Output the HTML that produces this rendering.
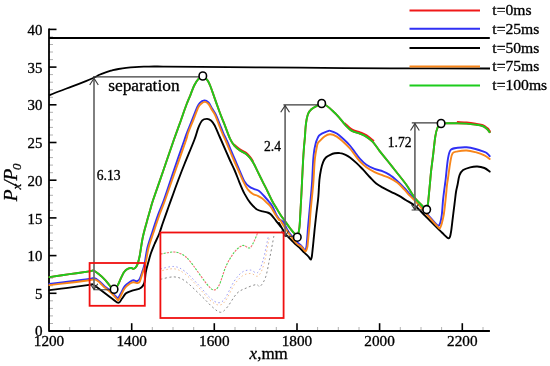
<!DOCTYPE html>
<html><head><meta charset="utf-8"><style>
html,body{margin:0;padding:0;background:#fff;}
body{width:550px;height:366px;overflow:hidden;position:relative;}
svg{position:absolute;left:0;top:0;}
text{font-family:"Liberation Serif","Times New Roman",serif; fill:#000;stroke:#000;stroke-width:0.3px;}
</style></head><body>
<svg width="550" height="366" viewBox="0 0 550 366">
<line x1="49" y1="323.5" x2="53" y2="323.5" stroke="#b0b0b0" stroke-width="1"/>
<line x1="49" y1="315.9" x2="53" y2="315.9" stroke="#b0b0b0" stroke-width="1"/>
<line x1="49" y1="308.4" x2="53" y2="308.4" stroke="#b0b0b0" stroke-width="1"/>
<line x1="49" y1="300.8" x2="53" y2="300.8" stroke="#b0b0b0" stroke-width="1"/>
<line x1="49" y1="285.8" x2="53" y2="285.8" stroke="#b0b0b0" stroke-width="1"/>
<line x1="49" y1="278.2" x2="53" y2="278.2" stroke="#b0b0b0" stroke-width="1"/>
<line x1="49" y1="270.7" x2="53" y2="270.7" stroke="#b0b0b0" stroke-width="1"/>
<line x1="49" y1="263.1" x2="53" y2="263.1" stroke="#b0b0b0" stroke-width="1"/>
<line x1="49" y1="248.1" x2="53" y2="248.1" stroke="#b0b0b0" stroke-width="1"/>
<line x1="49" y1="240.5" x2="53" y2="240.5" stroke="#b0b0b0" stroke-width="1"/>
<line x1="49" y1="233.0" x2="53" y2="233.0" stroke="#b0b0b0" stroke-width="1"/>
<line x1="49" y1="225.4" x2="53" y2="225.4" stroke="#b0b0b0" stroke-width="1"/>
<line x1="49" y1="210.4" x2="53" y2="210.4" stroke="#b0b0b0" stroke-width="1"/>
<line x1="49" y1="202.8" x2="53" y2="202.8" stroke="#b0b0b0" stroke-width="1"/>
<line x1="49" y1="195.3" x2="53" y2="195.3" stroke="#b0b0b0" stroke-width="1"/>
<line x1="49" y1="187.7" x2="53" y2="187.7" stroke="#b0b0b0" stroke-width="1"/>
<line x1="49" y1="172.7" x2="53" y2="172.7" stroke="#b0b0b0" stroke-width="1"/>
<line x1="49" y1="165.1" x2="53" y2="165.1" stroke="#b0b0b0" stroke-width="1"/>
<line x1="49" y1="157.6" x2="53" y2="157.6" stroke="#b0b0b0" stroke-width="1"/>
<line x1="49" y1="150.0" x2="53" y2="150.0" stroke="#b0b0b0" stroke-width="1"/>
<line x1="49" y1="135.0" x2="53" y2="135.0" stroke="#b0b0b0" stroke-width="1"/>
<line x1="49" y1="127.4" x2="53" y2="127.4" stroke="#b0b0b0" stroke-width="1"/>
<line x1="49" y1="119.9" x2="53" y2="119.9" stroke="#b0b0b0" stroke-width="1"/>
<line x1="49" y1="112.3" x2="53" y2="112.3" stroke="#b0b0b0" stroke-width="1"/>
<line x1="49" y1="97.3" x2="53" y2="97.3" stroke="#b0b0b0" stroke-width="1"/>
<line x1="49" y1="89.7" x2="53" y2="89.7" stroke="#b0b0b0" stroke-width="1"/>
<line x1="49" y1="82.2" x2="53" y2="82.2" stroke="#b0b0b0" stroke-width="1"/>
<line x1="49" y1="74.6" x2="53" y2="74.6" stroke="#b0b0b0" stroke-width="1"/>
<line x1="49" y1="59.6" x2="53" y2="59.6" stroke="#b0b0b0" stroke-width="1"/>
<line x1="49" y1="52.0" x2="53" y2="52.0" stroke="#b0b0b0" stroke-width="1"/>
<line x1="49" y1="44.5" x2="53" y2="44.5" stroke="#b0b0b0" stroke-width="1"/>
<line x1="49" y1="36.9" x2="53" y2="36.9" stroke="#b0b0b0" stroke-width="1"/>
<line x1="49" y1="331.0" x2="56.5" y2="331.0" stroke="#000" stroke-width="1.6"/>
<line x1="49" y1="293.3" x2="56.5" y2="293.3" stroke="#000" stroke-width="1.6"/>
<line x1="49" y1="255.6" x2="56.5" y2="255.6" stroke="#000" stroke-width="1.6"/>
<line x1="49" y1="217.9" x2="56.5" y2="217.9" stroke="#000" stroke-width="1.6"/>
<line x1="49" y1="180.2" x2="56.5" y2="180.2" stroke="#000" stroke-width="1.6"/>
<line x1="49" y1="142.5" x2="56.5" y2="142.5" stroke="#000" stroke-width="1.6"/>
<line x1="49" y1="104.8" x2="56.5" y2="104.8" stroke="#000" stroke-width="1.6"/>
<line x1="49" y1="67.1" x2="56.5" y2="67.1" stroke="#000" stroke-width="1.6"/>
<line x1="49" y1="29.4" x2="56.5" y2="29.4" stroke="#000" stroke-width="1.6"/>
<line x1="69.7" y1="331" x2="69.7" y2="327" stroke="#b0b0b0" stroke-width="1"/>
<line x1="90.3" y1="331" x2="90.3" y2="327" stroke="#b0b0b0" stroke-width="1"/>
<line x1="111.0" y1="331" x2="111.0" y2="327" stroke="#b0b0b0" stroke-width="1"/>
<line x1="131.7" y1="331" x2="131.7" y2="323.2" stroke="#000" stroke-width="1.6"/>
<line x1="152.3" y1="331" x2="152.3" y2="327" stroke="#b0b0b0" stroke-width="1"/>
<line x1="173.0" y1="331" x2="173.0" y2="327" stroke="#b0b0b0" stroke-width="1"/>
<line x1="193.7" y1="331" x2="193.7" y2="327" stroke="#b0b0b0" stroke-width="1"/>
<line x1="214.3" y1="331" x2="214.3" y2="323.2" stroke="#000" stroke-width="1.6"/>
<line x1="235.0" y1="331" x2="235.0" y2="327" stroke="#b0b0b0" stroke-width="1"/>
<line x1="255.7" y1="331" x2="255.7" y2="327" stroke="#b0b0b0" stroke-width="1"/>
<line x1="276.3" y1="331" x2="276.3" y2="327" stroke="#b0b0b0" stroke-width="1"/>
<line x1="297.0" y1="331" x2="297.0" y2="323.2" stroke="#000" stroke-width="1.6"/>
<line x1="317.6" y1="331" x2="317.6" y2="327" stroke="#b0b0b0" stroke-width="1"/>
<line x1="338.3" y1="331" x2="338.3" y2="327" stroke="#b0b0b0" stroke-width="1"/>
<line x1="359.0" y1="331" x2="359.0" y2="327" stroke="#b0b0b0" stroke-width="1"/>
<line x1="379.6" y1="331" x2="379.6" y2="323.2" stroke="#000" stroke-width="1.6"/>
<line x1="400.3" y1="331" x2="400.3" y2="327" stroke="#b0b0b0" stroke-width="1"/>
<line x1="421.0" y1="331" x2="421.0" y2="327" stroke="#b0b0b0" stroke-width="1"/>
<line x1="441.6" y1="331" x2="441.6" y2="327" stroke="#b0b0b0" stroke-width="1"/>
<line x1="462.3" y1="331" x2="462.3" y2="323.2" stroke="#000" stroke-width="1.6"/>
<line x1="483.0" y1="331" x2="483.0" y2="327" stroke="#b0b0b0" stroke-width="1"/>
<path d="M49.0 28.6 V331.0 H489.9" fill="none" stroke="#000" stroke-width="1.8" stroke-linejoin="round"/>
<line x1="49" y1="38.0" x2="489.8" y2="38.0" stroke="#000" stroke-width="1.8"/>
<path d="M49.0 95.3C50.6 94.7 54.7 93.0 58.6 91.5C62.5 90.0 67.8 88.1 72.3 86.4C76.8 84.7 82.4 82.5 85.9 81.1C89.4 79.7 91.0 79.0 93.2 78.0C95.5 77.0 97.3 75.8 99.4 74.8C101.5 73.8 103.6 73.0 105.7 72.3C107.8 71.6 110.0 71.0 112.1 70.4C114.2 69.9 116.2 69.4 118.5 69.0C120.8 68.6 123.3 68.2 126.1 67.9C128.8 67.6 132.0 67.3 135.0 67.1C138.0 66.9 140.7 66.8 143.9 66.7C147.1 66.6 150.9 66.6 154.1 66.5C157.3 66.5 155.3 66.5 163.0 66.6C170.7 66.7 177.2 66.7 200.0 66.9C222.8 67.1 268.3 67.5 300.0 67.7C331.7 67.9 358.3 68.2 390.0 68.3C421.7 68.4 473.3 68.5 490.0 68.5" fill="none" stroke="#000" stroke-width="1.8"/>
<path d="M160.5 254.0C162.8 253.7 170.2 251.8 174.1 252.0C178.0 252.2 181.0 253.7 183.7 255.3C186.4 256.9 187.5 258.3 190.5 261.9C193.5 265.5 198.6 273.0 201.5 276.9C204.4 280.8 205.9 283.3 208.0 285.5C210.1 287.7 211.9 290.1 213.8 290.0C215.7 289.9 217.1 289.1 219.2 285.1C221.2 281.1 223.6 271.5 226.1 266.0C228.6 260.5 231.6 255.7 234.3 252.3C237.0 248.9 240.0 246.2 242.5 245.5C245.0 244.8 247.5 248.4 249.3 248.0C251.1 247.6 252.0 245.3 253.4 242.8C254.8 240.3 256.8 234.8 257.5 233.2" fill="none" stroke="#f07070" stroke-width="1.1" stroke-dasharray="2.2 4.2"/>
<path d="M160.5 254.0C162.8 253.7 170.2 251.8 174.1 252.0C178.0 252.2 181.0 253.7 183.7 255.3C186.4 256.9 187.5 258.3 190.5 261.9C193.5 265.5 198.6 273.0 201.5 276.9C204.4 280.8 205.9 283.3 208.0 285.5C210.1 287.7 211.9 290.1 213.8 290.0C215.7 289.9 217.1 289.1 219.2 285.1C221.2 281.1 223.6 271.5 226.1 266.0C228.6 260.5 231.6 255.7 234.3 252.3C237.0 248.9 240.0 246.2 242.5 245.5C245.0 244.8 247.5 248.4 249.3 248.0C251.1 247.6 252.0 245.3 253.4 242.8C254.8 240.3 256.8 234.8 257.5 233.2" fill="none" stroke="#50d050" stroke-width="1.1" stroke-dasharray="2.2 4.2" stroke-dashoffset="3.2"/>
<path d="M160.5 268.9C162.8 268.5 170.0 266.1 174.1 266.5C178.2 266.9 181.0 268.4 185.1 271.5C189.2 274.6 194.6 280.8 198.7 285.1C202.8 289.4 206.5 294.5 209.7 297.4C212.9 300.3 215.4 302.5 217.9 302.7C220.4 302.9 222.0 302.4 224.7 298.8C227.4 295.2 231.3 285.5 234.3 281.0C237.3 276.5 239.8 273.8 242.5 272.0C245.2 270.2 248.2 270.0 250.7 270.1C253.2 270.2 255.4 274.2 257.5 272.6C259.6 271.0 261.2 266.6 263.0 260.5C264.8 254.4 267.5 240.0 268.4 235.9" fill="none" stroke="#9a9af5" stroke-width="1" stroke-dasharray="1.5 2.5"/>
<path d="M160.5 271.0C162.8 270.6 170.0 268.3 174.1 268.8C178.2 269.3 181.0 270.9 185.1 274.0C189.2 277.1 194.6 283.3 198.7 287.6C202.8 291.9 206.4 297.1 209.7 300.0C213.0 302.9 215.9 304.8 218.5 305.0C221.1 305.2 222.6 304.5 225.3 301.0C228.0 297.5 231.9 288.2 234.8 284.0C237.8 279.8 240.3 277.2 243.0 275.5C245.7 273.8 248.7 273.4 251.2 273.5C253.7 273.6 255.9 277.5 258.0 276.0C260.1 274.5 261.9 271.2 263.8 264.5C265.7 257.8 268.6 240.8 269.5 236.0" fill="none" stroke="#f5c090" stroke-width="1" stroke-dasharray="1.5 2.5" stroke-dashoffset="2"/>
<path d="M160.5 279.3C162.8 278.9 170.0 276.6 174.1 276.9C178.2 277.2 180.5 277.8 185.1 281.0C189.7 284.2 196.9 291.8 201.5 296.1C206.1 300.4 209.2 304.3 212.4 307.0C215.6 309.7 218.1 312.3 220.6 312.3C223.1 312.3 224.7 310.2 227.4 307.0C230.1 303.8 233.8 296.5 237.0 293.3C240.2 290.1 243.4 289.3 246.6 287.9C249.8 286.4 253.8 284.9 256.1 284.6C258.4 284.3 258.6 287.6 260.2 286.3C261.8 285.0 264.1 281.6 265.7 276.9C267.3 272.1 268.4 264.6 269.8 257.8C271.2 251.0 273.2 239.6 273.9 235.9" fill="none" stroke="#8a8a8a" stroke-width="1" stroke-dasharray="2 2.5"/>
<g fill="none" stroke-width="1.9" stroke-linejoin="round" stroke-linecap="round">
<path d="M49.3 277.1C52.7 276.6 62.9 275.1 69.6 274.1C76.3 273.2 85.3 272.0 89.3 271.4C93.3 270.8 92.0 270.2 93.6 270.6C95.2 271.1 96.7 272.5 98.7 274.1C100.7 275.7 103.6 278.3 105.5 280.3C107.4 282.3 109.0 284.9 110.3 286.3C111.6 287.7 112.3 288.9 113.5 288.8C114.7 288.7 116.2 287.6 117.5 285.7C118.8 283.8 120.0 280.0 121.2 277.6C122.4 275.2 123.3 272.9 124.6 271.4C125.8 269.9 127.5 269.0 128.7 268.4C129.8 267.8 130.7 267.9 131.5 268.0C132.3 268.1 132.8 269.1 133.5 268.9C134.2 268.7 135.3 268.0 136.0 267.0C136.7 266.0 137.3 265.0 137.9 263.1C138.5 261.2 139.0 259.6 139.8 255.4C140.6 251.2 141.5 243.6 142.6 238.2C143.7 232.8 145.2 227.7 146.5 222.9C147.8 218.1 149.2 213.4 150.3 209.6C151.4 205.8 150.9 206.6 153.1 200.0C155.3 193.4 160.1 180.0 163.5 170.0C166.9 160.0 171.0 148.1 173.8 140.0C176.7 131.9 178.5 127.1 180.6 121.2C182.7 115.3 184.8 108.9 186.5 104.5C188.2 100.1 189.2 98.0 190.5 94.8C191.8 91.6 192.9 88.1 194.2 85.5C195.5 82.9 196.9 80.7 198.3 79.2C199.7 77.7 201.1 76.5 202.6 76.6C204.1 76.7 205.9 78.2 207.2 79.8C208.5 81.4 209.3 83.5 210.3 86.0C211.3 88.5 211.9 90.3 213.4 94.6C214.9 98.9 217.8 107.1 219.5 111.8C221.2 116.5 222.1 118.3 223.9 122.8C225.7 127.3 228.3 135.0 230.1 138.8C231.9 142.7 233.0 144.0 234.6 145.9C236.2 147.8 238.0 149.1 239.9 150.4C241.8 151.7 244.4 152.6 246.1 153.9C247.8 155.2 248.9 156.6 250.2 158.2C251.5 159.8 252.4 161.3 253.7 163.5C254.9 165.7 256.2 168.6 257.7 171.6C259.2 174.6 260.9 178.2 262.5 181.4C264.1 184.6 265.7 187.5 267.3 190.8C268.9 194.1 270.8 198.4 272.3 201.2C273.8 204.0 274.9 205.5 276.2 207.7C277.5 209.9 278.8 212.2 280.1 214.2C281.4 216.2 282.0 217.0 283.8 219.5C285.6 222.0 288.9 226.8 290.7 229.1C292.5 231.4 293.4 232.4 294.5 233.6C295.6 234.8 296.2 237.4 297.0 236.5C297.8 235.6 298.8 232.2 299.3 228.4C299.9 224.7 300.0 219.1 300.3 214.0C300.6 208.9 300.9 203.3 301.2 198.0C301.5 192.7 301.7 188.0 302.0 182.0C302.3 176.0 302.7 167.8 303.0 162.0C303.3 156.2 303.7 150.9 304.0 147.0C304.3 143.1 304.5 142.0 304.8 138.7C305.1 135.4 305.3 130.2 305.6 127.0C305.9 123.8 306.2 121.8 306.6 119.5C307.1 117.2 307.5 115.1 308.3 113.4C309.1 111.7 310.0 110.5 311.4 109.2C312.8 108.0 315.3 106.7 316.9 105.9C318.5 105.1 319.7 104.3 321.2 104.2C322.7 104.1 324.0 104.2 325.9 105.3C327.8 106.4 330.3 108.8 332.5 110.8C334.7 112.8 336.9 115.0 339.0 117.3C341.1 119.6 343.1 122.6 345.2 124.8C347.3 127.0 349.1 129.1 351.5 130.6C353.9 132.1 357.4 132.6 359.8 133.6C362.2 134.6 364.0 135.2 366.2 136.6C368.4 138.0 370.6 139.6 372.8 141.9C375.0 144.2 376.8 147.3 379.3 150.6C381.9 153.9 385.2 157.8 388.1 161.5C391.0 165.2 393.7 168.6 396.8 172.5C399.9 176.4 403.9 181.3 406.5 185.0C409.1 188.7 410.9 192.1 412.5 194.5C414.1 196.9 414.2 197.4 415.8 199.2C417.4 201.0 420.4 203.9 422.0 205.5C423.6 207.1 424.4 208.6 425.3 208.5C426.2 208.4 427.1 207.1 427.7 205.1C428.3 203.1 428.3 200.2 428.7 196.5C429.1 192.8 429.6 187.1 430.0 183.0C430.4 178.9 430.5 176.8 431.0 172.0C431.5 167.2 432.5 160.2 433.2 154.3C433.9 148.4 434.6 141.0 435.3 136.5C436.0 132.0 436.7 129.6 437.6 127.5C438.6 125.4 439.5 124.6 441.0 123.9C442.5 123.2 443.9 123.4 446.7 123.3C449.5 123.2 454.4 123.2 457.7 123.3C461.0 123.3 463.6 123.4 466.6 123.6C469.6 123.8 472.8 124.2 475.5 124.6C478.2 125.0 480.7 125.3 482.6 126.0C484.5 126.7 485.8 128.0 487.0 129.0C488.2 130.0 489.2 131.7 489.7 132.2" stroke="#f01818"/>
<path d="M234.2 144.7C235.1 145.5 237.9 148.0 239.9 149.3C241.9 150.7 244.4 151.5 246.1 152.8C247.8 154.1 249.1 155.6 250.2 157.0C251.3 158.4 252.4 160.3 252.8 161.0" stroke="#f01818"/>
<path d="M345.2 123.6C346.3 124.6 349.3 127.9 351.8 129.4C354.3 130.9 357.7 131.4 360.2 132.4C362.7 133.4 364.4 134.0 366.6 135.4C368.8 136.8 372.3 139.7 373.4 140.6" stroke="#f01818"/>
<path d="M457.7 122.0C459.2 122.1 463.6 122.1 466.6 122.4C469.6 122.7 472.8 123.2 475.5 123.7C478.2 124.2 480.8 124.4 482.8 125.1C484.8 125.8 486.1 127.1 487.3 128.1C488.5 129.1 489.5 130.7 489.9 131.2" stroke="#f01818"/>
<path d="M49.3 283.9C52.7 283.5 62.9 282.3 69.6 281.5C76.3 280.7 85.1 279.6 89.3 279.0C93.5 278.4 92.8 277.8 94.5 278.2C96.2 278.6 97.9 280.2 99.6 281.5C101.2 282.8 102.8 284.8 104.4 286.2C106.0 287.6 107.6 288.6 109.2 290.0C110.8 291.4 112.7 293.3 114.0 294.6C115.3 295.9 116.3 297.0 117.0 297.6C117.7 298.2 117.6 298.6 118.2 298.0C118.8 297.4 119.5 295.7 120.6 293.8C121.7 291.9 123.0 288.4 124.6 286.4C126.2 284.4 128.6 282.7 130.1 281.7C131.6 280.7 132.4 280.4 133.5 280.3C134.6 280.2 135.9 281.4 136.9 281.2C137.9 281.0 138.8 280.5 139.7 278.9C140.6 277.3 141.6 273.9 142.4 271.4C143.2 268.9 143.8 267.9 144.6 264.0C145.4 260.1 146.1 253.1 147.4 247.8C148.7 242.6 150.4 237.9 152.2 232.5C153.9 227.1 155.9 220.7 157.9 215.3C159.9 209.9 161.2 207.6 163.9 200.0C166.6 192.4 170.6 180.0 174.0 170.0C177.4 160.0 182.2 146.3 184.4 140.0C186.6 133.7 185.9 135.5 187.3 131.9C188.7 128.3 191.2 122.2 192.8 118.2C194.4 114.2 195.8 110.5 196.9 108.0C198.0 105.5 198.3 104.5 199.6 103.2C200.8 101.9 202.9 100.5 204.4 100.4C205.9 100.3 207.2 101.2 208.5 102.5C209.8 103.8 210.9 106.5 212.1 108.5C213.3 110.5 214.4 111.7 215.6 114.2C216.8 116.7 218.2 120.3 219.5 123.5C220.8 126.7 222.3 130.7 223.5 133.5C224.7 136.3 225.6 137.7 226.8 140.5C228.1 143.3 229.6 147.0 231.0 150.3C232.4 153.6 233.8 156.9 235.2 160.2C236.6 163.5 237.9 166.5 239.4 170.0C240.9 173.5 242.7 178.3 244.3 181.1C245.9 183.9 247.5 185.3 249.2 186.6C250.8 187.9 252.5 188.4 254.2 189.1C255.8 189.8 257.5 189.8 259.1 191.0C260.7 192.2 262.4 194.2 264.0 196.0C265.6 197.8 267.5 199.8 268.9 201.6C270.3 203.3 271.2 204.3 272.5 206.5C273.8 208.7 275.2 212.9 276.4 215.0C277.6 217.1 278.3 218.1 279.5 219.3C280.7 220.5 281.9 220.1 283.4 222.1C284.9 224.1 286.2 228.3 288.4 231.5C290.6 234.7 294.3 238.9 296.5 241.3C298.7 243.7 300.1 244.5 301.4 245.8C302.7 247.2 303.5 248.6 304.1 249.4C304.8 250.2 304.9 250.9 305.3 250.5C305.7 250.1 306.0 249.3 306.4 246.9C306.8 244.5 307.1 239.6 307.4 235.9C307.7 232.2 307.8 229.3 308.2 225.0C308.6 220.7 309.0 216.7 309.6 210.0C310.2 203.3 311.3 192.9 311.9 184.6C312.5 176.3 312.8 165.8 313.2 160.0C313.6 154.2 313.9 152.8 314.3 150.0C314.7 147.2 315.4 144.7 315.8 143.0C316.2 141.3 316.4 141.0 316.9 139.8C317.4 138.6 318.1 136.7 319.0 135.6C319.9 134.5 320.8 134.1 322.3 133.3C323.8 132.6 326.5 131.5 327.8 131.1C329.1 130.7 328.8 130.4 330.3 130.8C331.8 131.2 334.6 132.1 336.8 133.5C339.0 134.9 341.2 137.0 343.4 139.0C345.6 141.0 348.0 143.3 349.9 145.5C351.8 147.7 353.4 150.1 355.0 152.3C356.6 154.5 357.9 156.5 359.8 158.6C361.7 160.7 363.9 163.1 366.4 164.8C368.9 166.5 371.9 167.8 374.6 168.9C377.3 170.0 380.4 170.4 382.8 171.3C385.2 172.2 386.9 173.0 389.3 174.6C391.8 176.2 395.0 178.9 397.5 181.1C400.0 183.3 402.0 185.5 404.1 187.7C406.2 189.9 407.8 191.9 410.0 194.3C412.2 196.7 414.1 198.6 417.2 202.2C420.3 205.8 425.5 211.9 428.7 215.6C431.9 219.3 434.6 222.6 436.3 224.2C438.1 225.8 438.3 226.7 439.2 225.3C440.1 223.9 441.1 219.8 441.7 215.6C442.3 211.4 442.5 205.4 443.0 200.3C443.5 195.2 444.4 188.7 444.9 185.0C445.4 181.3 445.3 182.3 445.8 178.0C446.3 173.7 447.1 163.9 447.9 159.2C448.7 154.5 449.0 151.9 450.6 150.0C452.2 148.1 455.0 148.2 457.7 147.8C460.4 147.4 463.6 147.1 466.6 147.3C469.6 147.5 472.5 148.2 475.5 149.0C478.5 149.8 482.4 151.2 484.4 151.9C486.3 152.6 486.3 152.7 487.2 153.4C488.1 154.1 489.3 155.7 489.7 156.2" stroke="#3030f4"/>
<path d="M49.3 290.1C52.7 289.7 62.9 288.5 69.6 287.6C76.3 286.7 85.5 285.4 89.3 284.9C93.1 284.3 91.3 284.1 92.4 284.3C93.5 284.6 94.1 285.0 96.0 286.4C97.9 287.8 101.3 290.4 104.0 292.5C106.7 294.6 109.9 297.0 112.3 298.7C114.7 300.4 116.9 302.8 118.5 302.8C120.1 302.8 120.7 300.3 121.9 298.7C123.2 297.1 124.4 294.6 126.0 293.3C127.6 292.0 129.7 291.5 131.5 290.8C133.3 290.1 135.5 289.8 136.9 289.4C138.3 289.0 138.8 289.0 139.7 288.5C140.6 288.0 141.6 287.4 142.4 286.4C143.2 285.4 143.9 284.7 144.5 282.3C145.1 279.9 145.2 275.4 145.8 272.1C146.4 268.8 147.4 265.5 148.3 262.3C149.2 259.1 149.9 256.1 151.0 253.0C152.1 249.9 153.5 246.7 154.8 243.5C156.2 240.3 157.7 237.5 159.1 234.0C160.5 230.5 161.4 226.9 163.0 222.5C164.6 218.1 166.7 212.1 168.4 207.3C170.1 202.6 171.5 198.6 173.2 194.0C174.8 189.4 176.4 185.0 178.3 180.0C180.2 175.0 181.8 170.7 184.5 164.0C187.2 157.3 192.0 146.0 194.3 140.0C196.6 134.0 197.0 131.1 198.3 127.8C199.6 124.5 200.8 121.8 202.3 120.3C203.8 118.8 205.7 118.9 207.1 118.9C208.5 119.0 209.8 119.6 211.0 120.6C212.2 121.6 213.1 122.7 214.4 125.0C215.7 127.3 217.6 132.1 218.7 134.6C219.8 137.1 219.3 135.9 221.1 140.0C222.9 144.1 227.2 154.0 229.4 159.0C231.6 164.0 232.8 166.1 234.5 170.0C236.2 173.9 237.8 178.4 239.4 182.3C241.0 186.2 242.5 189.9 244.3 193.4C246.2 196.9 248.4 200.6 250.5 203.2C252.6 205.8 254.6 207.8 256.6 209.2C258.7 210.6 261.1 210.9 262.8 211.4C264.5 211.9 265.7 211.8 267.0 212.3C268.3 212.8 269.2 213.0 270.7 214.3C272.1 215.6 274.0 218.2 275.7 220.3C277.4 222.4 280.6 226.7 281.1 227.1C281.7 227.5 278.4 222.0 279.0 223.0C279.6 224.0 283.3 230.7 285.0 233.2C286.7 235.7 287.9 236.5 289.4 238.1C290.9 239.7 292.2 240.9 293.8 242.5C295.4 244.1 297.4 245.7 299.2 247.4C301.0 249.1 303.1 251.4 304.7 252.9C306.2 254.4 307.5 255.6 308.5 256.7C309.5 257.8 310.1 259.6 310.7 259.6C311.2 259.6 311.4 258.8 311.8 256.7C312.2 254.6 312.5 250.4 312.9 246.9C313.3 243.4 313.6 239.6 314.0 235.9C314.4 232.2 314.6 229.3 315.1 225.0C315.6 220.7 316.2 214.8 316.8 210.0C317.4 205.2 318.0 201.0 318.4 196.0C318.8 191.0 319.0 184.4 319.4 180.0C319.8 175.6 320.4 172.5 321.0 169.5C321.6 166.5 322.4 163.9 323.2 161.9C324.0 159.9 324.7 158.7 325.9 157.5C327.1 156.3 328.8 155.5 330.3 154.8C331.8 154.1 333.1 153.6 334.7 153.3C336.3 153.0 338.3 152.8 340.1 153.1C341.9 153.3 344.0 154.1 345.6 154.8C347.2 155.5 348.2 156.0 350.0 157.4C351.8 158.8 354.4 161.1 356.6 163.1C358.8 165.1 360.9 167.4 363.1 169.7C365.3 172.0 367.5 174.7 369.7 177.0C371.9 179.3 374.0 181.8 376.2 183.6C378.4 185.4 380.3 186.3 382.8 187.7C385.3 189.1 388.3 190.4 391.0 191.8C393.7 193.2 396.8 194.5 399.2 195.9C401.6 197.3 403.0 198.3 405.7 200.0C408.4 201.7 412.1 203.4 415.3 206.0C418.5 208.6 421.7 212.4 424.9 215.6C428.1 218.8 431.5 222.3 434.4 225.2C437.3 228.1 439.8 230.6 442.1 232.8C444.5 235.0 447.1 238.1 448.5 238.3C449.9 238.5 450.0 237.0 450.7 233.8C451.4 230.7 452.0 224.4 452.6 219.4C453.2 214.4 453.9 208.7 454.5 204.1C455.1 199.5 455.5 195.2 456.0 192.0C456.5 188.8 456.9 187.8 457.5 185.0C458.1 182.2 458.6 177.8 459.5 175.3C460.4 172.8 461.3 171.3 463.1 170.0C464.9 168.7 467.8 167.9 470.2 167.3C472.6 166.7 474.9 166.4 477.3 166.5C479.7 166.6 482.3 167.2 484.4 168.0C486.5 168.8 488.8 171.0 489.7 171.6" stroke="#000"/>
<path d="M49.3 285.1C52.7 284.7 62.9 283.6 69.6 282.8C76.3 282.0 85.0 280.8 89.3 280.3C93.6 279.8 93.6 279.2 95.3 279.6C97.0 280.0 98.1 281.2 99.6 282.5C101.1 283.8 102.8 285.9 104.4 287.3C106.0 288.7 107.6 289.7 109.2 291.1C110.8 292.5 112.7 294.5 114.0 295.9C115.3 297.3 116.6 298.8 117.3 299.5C118.0 300.2 117.8 300.6 118.4 300.0C119.0 299.4 119.8 297.8 120.8 295.9C121.8 294.0 123.0 290.6 124.6 288.5C126.1 286.4 128.6 284.5 130.1 283.5C131.6 282.5 132.4 282.4 133.5 282.3C134.6 282.2 135.9 283.1 136.9 283.0C137.9 282.9 138.8 283.3 139.7 281.7C140.6 280.1 141.4 276.4 142.4 273.5C143.4 270.6 144.5 268.2 145.5 264.0C146.5 259.8 147.2 253.2 148.5 248.0C149.8 242.8 151.7 237.9 153.5 232.5C155.3 227.1 157.4 220.7 159.3 215.3C161.2 209.9 162.4 207.6 165.1 200.0C167.8 192.4 172.1 180.0 175.6 170.0C179.1 160.0 184.0 146.1 186.1 140.0C188.2 133.9 186.8 136.7 188.0 133.3C189.2 129.9 191.8 123.9 193.5 119.6C195.2 115.3 197.0 110.0 198.3 107.3C199.6 104.6 200.4 104.4 201.5 103.5C202.6 102.6 203.9 101.8 205.1 101.9C206.3 102.0 207.3 102.7 208.5 104.0C209.7 105.3 210.9 108.2 212.0 110.0C213.1 111.8 213.8 112.3 215.0 114.8C216.2 117.3 217.8 121.8 219.0 125.0C220.2 128.2 221.4 131.1 222.5 133.8C223.6 136.5 224.6 138.1 225.8 141.0C227.1 143.9 228.6 147.7 230.0 151.0C231.4 154.3 232.8 157.8 234.2 161.0C235.6 164.2 236.7 166.7 238.2 170.0C239.7 173.3 241.5 177.8 243.1 181.1C244.7 184.4 246.4 187.5 248.0 189.7C249.6 191.8 251.3 193.0 252.9 194.0C254.5 195.0 256.3 195.2 257.8 195.9C259.3 196.6 260.5 197.2 262.0 198.3C263.5 199.4 265.2 201.2 266.6 202.6C268.0 204.0 269.0 204.4 270.5 206.5C272.0 208.6 274.2 212.8 275.6 215.0C277.0 217.2 278.2 219.2 279.0 220.0C279.8 220.8 279.0 218.6 280.1 220.0C281.2 221.4 283.0 224.9 285.6 228.7C288.2 232.5 293.4 240.0 296.0 243.0C298.6 246.0 300.0 245.4 301.4 246.6C302.8 247.8 303.6 249.5 304.3 250.3C305.0 251.1 305.3 251.8 305.8 251.2C306.3 250.6 306.9 249.4 307.4 246.9C307.8 244.4 308.1 239.6 308.5 235.9C308.9 232.2 309.2 229.3 309.6 225.0C310.0 220.7 310.1 216.7 310.7 210.0C311.3 203.3 312.5 192.6 313.2 184.6C313.9 176.6 314.2 166.9 314.6 162.0C315.0 157.1 315.1 156.8 315.4 155.0C315.6 153.2 315.7 152.8 316.1 150.9C316.5 149.0 317.0 145.0 317.7 143.3C318.4 141.6 319.0 141.7 320.1 140.6C321.2 139.5 322.9 137.6 324.5 136.5C326.1 135.4 327.9 134.3 330.0 134.3C332.1 134.3 334.6 135.3 336.8 136.6C339.0 137.9 341.2 140.0 343.4 142.0C345.6 144.0 348.0 146.3 349.9 148.5C351.8 150.7 353.4 153.1 355.0 155.2C356.6 157.3 357.9 159.3 359.8 161.3C361.7 163.3 363.9 165.4 366.4 167.2C368.9 169.0 371.9 170.7 374.6 172.1C377.3 173.5 380.4 174.4 382.8 175.4C385.2 176.4 386.9 176.7 389.3 177.9C391.8 179.1 395.0 180.9 397.5 182.8C400.0 184.7 402.0 187.1 404.1 189.3C406.2 191.5 407.8 193.6 410.0 195.9C412.2 198.2 414.1 199.8 417.2 203.2C420.3 206.6 425.3 212.8 428.7 216.6C432.1 220.4 435.4 224.2 437.3 226.1C439.2 228.0 439.1 229.6 440.2 227.8C441.2 226.1 442.7 220.2 443.6 215.6C444.5 211.0 444.9 205.4 445.5 200.3C446.1 195.2 446.6 188.6 447.0 185.0C447.4 181.4 447.3 182.9 447.9 179.0C448.5 175.1 449.6 165.9 450.4 161.6C451.2 157.3 451.4 155.0 452.6 153.3C453.8 151.6 455.4 151.9 457.7 151.4C460.0 150.9 463.6 150.4 466.6 150.5C469.6 150.6 472.5 151.4 475.5 152.2C478.5 153.0 482.0 154.2 484.4 155.3C486.8 156.4 488.8 158.4 489.7 159.0" stroke="#f8861a"/>
<path d="M49.3 277.1C52.7 276.6 62.9 275.1 69.6 274.1C76.3 273.2 85.3 272.0 89.3 271.4C93.3 270.8 92.0 270.2 93.6 270.6C95.2 271.1 96.7 272.5 98.7 274.1C100.7 275.7 103.6 278.3 105.5 280.3C107.4 282.3 109.0 284.9 110.3 286.3C111.6 287.7 112.3 288.9 113.5 288.8C114.7 288.7 116.2 287.6 117.5 285.7C118.8 283.8 120.0 280.0 121.2 277.6C122.4 275.2 123.3 272.9 124.6 271.4C125.8 269.9 127.5 269.0 128.7 268.4C129.8 267.8 130.7 267.9 131.5 268.0C132.3 268.1 132.8 269.1 133.5 268.9C134.2 268.7 135.3 268.0 136.0 267.0C136.7 266.0 137.3 265.0 137.9 263.1C138.5 261.2 139.0 259.6 139.8 255.4C140.6 251.2 141.5 243.6 142.6 238.2C143.7 232.8 145.2 227.7 146.5 222.9C147.8 218.1 149.2 213.4 150.3 209.6C151.4 205.8 150.9 206.6 153.1 200.0C155.3 193.4 160.1 180.0 163.5 170.0C166.9 160.0 171.0 148.1 173.8 140.0C176.7 131.9 178.5 127.1 180.6 121.2C182.7 115.3 184.8 108.9 186.5 104.5C188.2 100.1 189.2 98.0 190.5 94.8C191.8 91.6 192.9 88.1 194.2 85.5C195.5 82.9 196.9 80.7 198.3 79.2C199.7 77.7 201.1 76.5 202.6 76.6C204.1 76.7 205.9 78.2 207.2 79.8C208.5 81.4 209.3 83.5 210.3 86.0C211.3 88.5 211.9 90.3 213.4 94.6C214.9 98.9 217.8 107.1 219.5 111.8C221.2 116.5 222.1 118.3 223.9 122.8C225.7 127.3 228.3 135.0 230.1 138.8C231.9 142.7 233.0 144.0 234.6 145.9C236.2 147.8 238.0 149.1 239.9 150.4C241.8 151.7 244.4 152.6 246.1 153.9C247.8 155.2 248.9 156.6 250.2 158.2C251.5 159.8 252.4 161.3 253.7 163.5C254.9 165.7 256.2 168.6 257.7 171.6C259.2 174.6 260.9 178.2 262.5 181.4C264.1 184.6 265.7 187.5 267.3 190.8C268.9 194.1 270.8 198.4 272.3 201.2C273.8 204.0 274.9 205.5 276.2 207.7C277.5 209.9 278.8 212.2 280.1 214.2C281.4 216.2 282.0 217.0 283.8 219.5C285.6 222.0 288.9 226.8 290.7 229.1C292.5 231.4 293.4 232.4 294.5 233.6C295.6 234.8 296.2 237.4 297.0 236.5C297.8 235.6 298.8 232.2 299.3 228.4C299.9 224.7 300.0 219.1 300.3 214.0C300.6 208.9 300.9 203.3 301.2 198.0C301.5 192.7 301.7 188.0 302.0 182.0C302.3 176.0 302.7 167.8 303.0 162.0C303.3 156.2 303.7 150.9 304.0 147.0C304.3 143.1 304.5 142.0 304.8 138.7C305.1 135.4 305.3 130.2 305.6 127.0C305.9 123.8 306.2 121.8 306.6 119.5C307.1 117.2 307.5 115.1 308.3 113.4C309.1 111.7 310.0 110.5 311.4 109.2C312.8 108.0 315.3 106.7 316.9 105.9C318.5 105.1 319.7 104.3 321.2 104.2C322.7 104.1 324.0 104.2 325.9 105.3C327.8 106.4 330.3 108.8 332.5 110.8C334.7 112.8 336.9 115.0 339.0 117.3C341.1 119.6 343.1 122.6 345.2 124.8C347.3 127.0 349.1 129.1 351.5 130.6C353.9 132.1 357.4 132.6 359.8 133.6C362.2 134.6 364.0 135.2 366.2 136.6C368.4 138.0 370.6 139.6 372.8 141.9C375.0 144.2 376.8 147.3 379.3 150.6C381.9 153.9 385.2 157.8 388.1 161.5C391.0 165.2 393.7 168.6 396.8 172.5C399.9 176.4 403.9 181.3 406.5 185.0C409.1 188.7 410.9 192.1 412.5 194.5C414.1 196.9 414.2 197.4 415.8 199.2C417.4 201.0 420.4 203.9 422.0 205.5C423.6 207.1 424.4 208.6 425.3 208.5C426.2 208.4 427.1 207.1 427.7 205.1C428.3 203.1 428.3 200.2 428.7 196.5C429.1 192.8 429.6 187.1 430.0 183.0C430.4 178.9 430.5 176.8 431.0 172.0C431.5 167.2 432.5 160.2 433.2 154.3C433.9 148.4 434.6 141.0 435.3 136.5C436.0 132.0 436.7 129.6 437.6 127.5C438.6 125.4 439.5 124.6 441.0 123.9C442.5 123.2 443.9 123.4 446.7 123.3C449.5 123.2 454.4 123.2 457.7 123.3C461.0 123.3 463.6 123.4 466.6 123.6C469.6 123.8 472.8 124.2 475.5 124.6C478.2 125.0 480.7 125.3 482.6 126.0C484.5 126.7 485.8 128.0 487.0 129.0C488.2 130.0 489.2 131.7 489.7 132.2" stroke="#1ccc1c"/>
</g>
<g fill="none" stroke="#6a6a6a" stroke-width="1.7">
<path d="M94 78.6 V289.2 M285.1 105.8 V236.2 M414.9 123.8 V209.6"/>
</g>
<g fill="none" stroke="#3c3c3c" stroke-width="1.15" stroke-linejoin="miter">
<path d="M89.7 85 L94 78.3 L98.3 85 M93 76.9 H199 M90.2 283.8 L94 289.4 L97.8 283.8 M93.4 289.7 H110"/>
<path d="M280.7 112.3 L285.1 105.6 L289.5 112.3 M283.4 104.8 H318 M281.5 230.8 L285.1 236.2 L288.7 230.8 M284.5 236.4 H293.5"/>
<path d="M410.5 130.5 L414.9 123.6 L419.3 130.5 M411.8 122.9 H437 M411.4 204.4 L414.9 209.6 L418.4 204.4 M411.6 210 H422.8"/>
</g>
<rect x="160.4" y="232.5" width="123.2" height="85.5" fill="none" stroke="#f01010" stroke-width="1.8"/>
<rect x="89.6" y="263.0" width="55.2" height="42.8" fill="none" stroke="#f01010" stroke-width="1.8"/>
<ellipse cx="114.1" cy="289.3" rx="3.75" ry="4.0" fill="#fff" stroke="#000" stroke-width="1.6"/>
<ellipse cx="202.8" cy="76.0" rx="3.75" ry="4.0" fill="#fff" stroke="#000" stroke-width="1.6"/>
<ellipse cx="297.3" cy="237.2" rx="3.75" ry="4.0" fill="#fff" stroke="#000" stroke-width="1.6"/>
<ellipse cx="321.7" cy="103.5" rx="3.75" ry="4.0" fill="#fff" stroke="#000" stroke-width="1.6"/>
<ellipse cx="426.7" cy="209.6" rx="3.75" ry="4.0" fill="#fff" stroke="#000" stroke-width="1.6"/>
<ellipse cx="441.1" cy="123.5" rx="3.75" ry="4.0" fill="#fff" stroke="#000" stroke-width="1.6"/>
<line x1="409.5" y1="10.4" x2="480" y2="10.4" stroke="#f01818" stroke-width="2"/>
<line x1="409.5" y1="28.8" x2="480" y2="28.8" stroke="#3030f4" stroke-width="2"/>
<line x1="409.5" y1="47.9" x2="480" y2="47.9" stroke="#000" stroke-width="2"/>
<line x1="409.5" y1="66.5" x2="480" y2="66.5" stroke="#f8861a" stroke-width="2"/>
<line x1="409.5" y1="85.6" x2="480" y2="85.6" stroke="#1ccc1c" stroke-width="2"/>
<text x="492.3" y="15.2" font-size="14.5" text-anchor="start" transform="translate(492.3 0) scale(1.08 1) translate(-492.3 0)">t=0ms</text>
<text x="492.3" y="33.6" font-size="14.5" text-anchor="start" transform="translate(492.3 0) scale(1.08 1) translate(-492.3 0)">t=25ms</text>
<text x="492.3" y="52.7" font-size="14.5" text-anchor="start" transform="translate(492.3 0) scale(1.08 1) translate(-492.3 0)">t=50ms</text>
<text x="492.3" y="71.3" font-size="14.5" text-anchor="start" transform="translate(492.3 0) scale(1.08 1) translate(-492.3 0)">t=75ms</text>
<text x="492.3" y="90.4" font-size="14.5" text-anchor="start" transform="translate(492.3 0) scale(1.08 1) translate(-492.3 0)">t=100ms</text>
<text x="42.6" y="336.0" font-size="14.0" text-anchor="end" transform="translate(42.6 0) scale(1.08 1) translate(-42.6 0)">0</text>
<text x="42.3" y="299.0" font-size="14.0" text-anchor="end" transform="translate(42.3 0) scale(1.06 1) translate(-42.3 0)">5</text>
<text x="42.3" y="261.3" font-size="14.0" text-anchor="end" transform="translate(42.3 0) scale(1.06 1) translate(-42.3 0)">10</text>
<text x="42.3" y="223.6" font-size="14.0" text-anchor="end" transform="translate(42.3 0) scale(1.06 1) translate(-42.3 0)">15</text>
<text x="42.3" y="185.9" font-size="14.0" text-anchor="end" transform="translate(42.3 0) scale(1.06 1) translate(-42.3 0)">20</text>
<text x="42.3" y="148.2" font-size="14.0" text-anchor="end" transform="translate(42.3 0) scale(1.06 1) translate(-42.3 0)">25</text>
<text x="42.3" y="110.5" font-size="14.0" text-anchor="end" transform="translate(42.3 0) scale(1.06 1) translate(-42.3 0)">30</text>
<text x="42.3" y="72.8" font-size="14.0" text-anchor="end" transform="translate(42.3 0) scale(1.06 1) translate(-42.3 0)">35</text>
<text x="42.3" y="35.1" font-size="14.0" text-anchor="end" transform="translate(42.3 0) scale(1.06 1) translate(-42.3 0)">40</text>
<text x="49.0" y="345.6" font-size="14.0" text-anchor="middle" transform="translate(49.0 0) scale(1.09 1) translate(-49.0 0)">1200</text>
<text x="131.7" y="345.6" font-size="14.0" text-anchor="middle" transform="translate(131.7 0) scale(1.09 1) translate(-131.7 0)">1400</text>
<text x="214.3" y="345.6" font-size="14.0" text-anchor="middle" transform="translate(214.3 0) scale(1.09 1) translate(-214.3 0)">1600</text>
<text x="297.0" y="345.6" font-size="14.0" text-anchor="middle" transform="translate(297.0 0) scale(1.09 1) translate(-297.0 0)">1800</text>
<text x="379.6" y="345.6" font-size="14.0" text-anchor="middle" transform="translate(379.6 0) scale(1.09 1) translate(-379.6 0)">2000</text>
<text x="462.3" y="345.6" font-size="14.0" text-anchor="middle" transform="translate(462.3 0) scale(1.09 1) translate(-462.3 0)">2200</text>
<text x="108.2" y="91.4" font-size="17.4" text-anchor="start" >separation</text>
<text x="96.8" y="179.6" font-size="13.6" text-anchor="start" >6.13</text>
<text x="264.0" y="150.8" font-size="13.6" text-anchor="start" >2.4</text>
<text x="387.8" y="147.0" font-size="13.6" text-anchor="start" >1.72</text>
<text x="249.6" y="359.2" font-size="17"><tspan font-style="italic">x</tspan>,mm</text>
<text transform="translate(17.0 201.3) rotate(-90)" font-size="19.2" font-style="italic">P<tspan font-size="13" dy="3.8">x</tspan><tspan dy="-3.8" dx="-2.0">/P</tspan><tspan font-size="13" dy="3.8" dx="-1.2">0</tspan></text>
</svg>
</body></html>
